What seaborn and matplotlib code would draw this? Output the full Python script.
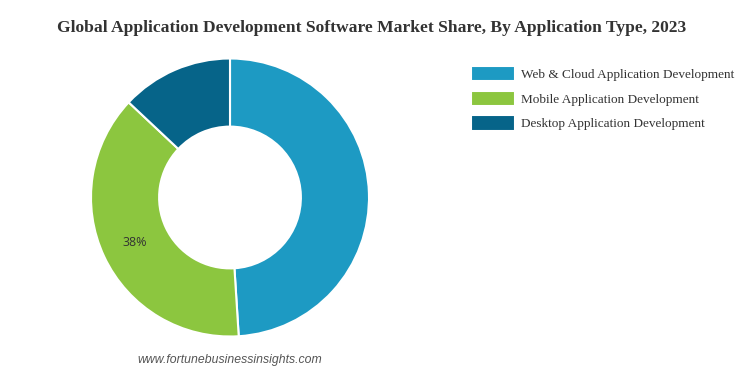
import matplotlib
matplotlib.use("Agg")
import matplotlib.pyplot as plt
import seaborn as sns

categories = ["Web & Cloud Application Development",
              "Mobile Application Development",
              "Desktop Application Development"]
shares = [49, 38, 13]
shown_labels = ["", "38%", ""]
colors = ["#1d9ac3", "#8cc63f", "#066489"]

sns.set_theme(style="white")
plt.rcParams["font.family"] = ["Liberation Serif", "DejaVu Serif"]

W, H = 745, 372
fig = plt.figure(figsize=(W / 100, H / 100), dpi=100)
fig.patch.set_facecolor("white")

cx, cy, r = 230, 197.5, 139
ax = fig.add_axes([(cx - r) / W, (H - cy - r) / H, 2 * r / W, 2 * r / H])
wedges, texts, autotexts = ax.pie(
    shares, colors=colors, startangle=90, counterclock=False, radius=1,
    wedgeprops=dict(width=0.49, edgecolor="white", linewidth=1.5),
    autopct="%1.0f%%", pctdistance=0.755,
)
for t, lab in zip(autotexts, shown_labels):
    t.set_text(lab)
    t.set_fontfamily(["Open Sans", "DejaVu Sans"])
    t.set_fontsize(9)
    t.set_color("#333333")
ax.set_xlim(-1, 1)
ax.set_ylim(-1, 1)
ax.set_aspect("equal")
ax.axis("off")

fig.text(372 / W, 1 - 28 / H,
         "Global Application Development Software Market Share, By Application Type, 2023",
         ha="center", va="center", fontsize=12.6, fontweight="bold", color="#333333")

leg = fig.legend(wedges, categories, loc="upper left",
                 bbox_to_anchor=(471 / W, 1 - 66 / H), frameon=False,
                 fontsize=9.5, handlelength=3.3, handleheight=1.4,
                 handletextpad=0.5, labelspacing=0.72, borderaxespad=0,
                 borderpad=0)
for t in leg.get_texts():
    t.set_color("#333333")

fig.text(230 / W, 1 - 360 / H, "www.fortunebusinessinsights.com",
         ha="center", va="center", fontsize=8.85, style="italic",
         color="#555555", family=["Liberation Sans", "DejaVu Sans"])

fig.savefig("out.png", dpi=100, facecolor="white")
